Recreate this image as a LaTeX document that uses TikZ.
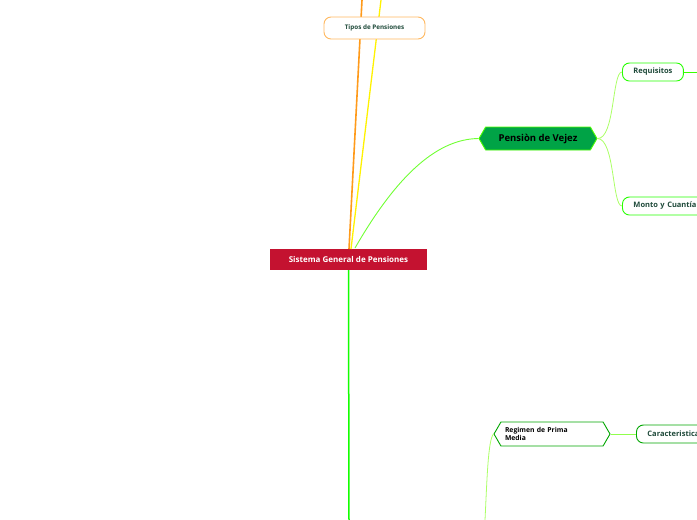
\documentclass[tikz,border=0pt]{standalone}
\usepackage{fontspec}
\setmainfont{Open Sans}
\usetikzlibrary{shapes.geometric,shapes.symbols}
\definecolor{crim}{HTML}{C41230}
\definecolor{teal}{HTML}{1F4A3A}
\definecolor{vej}{HTML}{00A346}
\definecolor{orng}{HTML}{FF9A1A}
\tikzset{
  pill/.style={draw=#1, line width=0.9pt, rounded corners=7pt, fill=white, font=\bfseries\fontsize{7.5}{8}\selectfont, text=teal, anchor=west, minimum height=18pt, inner xsep=11pt, align=left},
  hexa/.style={draw=#1, line width=0.9pt, signal, signal to=east and west, signal pointer angle=120, inner xsep=4pt}
}
\begin{document}
\begin{tikzpicture}[x=1pt,y=-1pt]
\useasboundingbox (0,0) rectangle (697,520);
\begin{scope}
\clip (0,0) rectangle (697,520);
\node[fill=crim, text=white, font=\bfseries\fontsize{8}{9}\selectfont, minimum width=157pt, minimum height=21pt, inner sep=0pt] (root) at (348.5,259.5) {Sistema General de Pensiones};
\coordinate (top1) at (362,0);
\coordinate (top2) at (381,0);
\coordinate (bot) at (349,520);
\draw[orng, line width=1.6pt] (349,249) -- (top1);
\draw[yellow, line width=1.3pt] (351,249) -- (top2);
\draw[green!90!lime, line width=1.5pt] (root.south) -- (bot);
\node[pill=orng!70, minimum width=101pt, minimum height=22pt, anchor=center, align=center, font=\bfseries\fontsize{6.3}{7}\selectfont] (tipos) at (374.5,28) {Tipos de Pensiones};
\node[hexa=green!60!lime, fill=vej, minimum width=118pt, minimum height=23pt, font=\bfseries\fontsize{9.5}{10}\selectfont] (vejez) at (538,138.5) {Pensiòn de Vejez};
\draw[green!60!lime!80, line width=0.9pt] (355,248) .. controls (400,170) and (440,139) .. (vejez.west);
\node[pill=green!80!lime] (req) at (622,72) {Requisitos};
\node[pill=green!80!lime, text width=80pt] (monto) at (622,206) {Monto y Cuantía};
\coordinate (reqend) at (697,72);
\draw[green!70!lime, line width=0.8pt] (req.east) -- (reqend);
\draw[green!40!lime!60, line width=0.8pt] (vejez.east) .. controls (615,139) and (612,72) .. (req.west);
\draw[green!40!lime!60, line width=0.8pt] (vejez.east) .. controls (615,139) and (612,206) .. (monto.west);
\node[hexa=green!65!black, fill=white, minimum width=116pt, minimum height=24pt, align=left, text width=94pt, font=\bfseries\fontsize{6.8}{8}\selectfont] (prima) at (552,434) {Regimen de Prima\\Media};
\coordinate (pend) at (485,520);
\draw[green!40!lime!60, line width=0.8pt] (prima.west) .. controls (488,440) and (487,480) .. (pend);
\node[pill=green!65!black, text width=80pt] (carac) at (636,434) {Caracteristicas};
\draw[green!50!lime!70, line width=0.8pt] (prima.east) -- (carac.west);
\end{scope}
\end{tikzpicture}
\end{document}
